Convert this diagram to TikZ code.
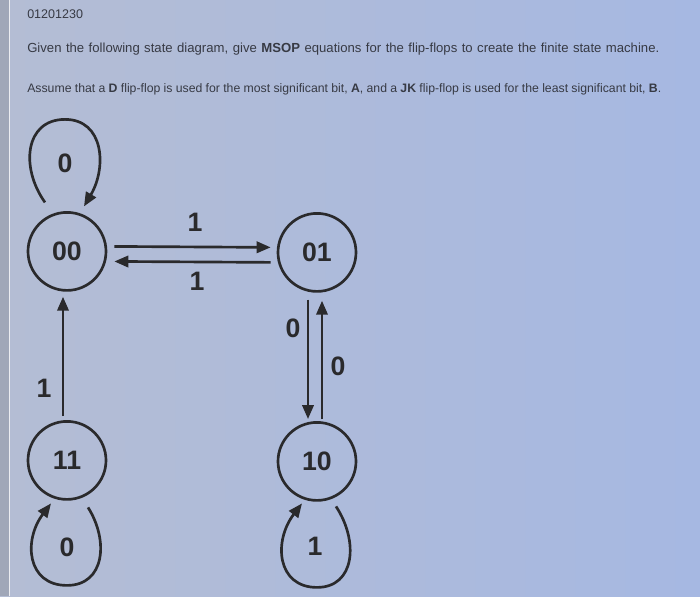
\documentclass[tikz,border=0pt]{standalone}
\usepackage{fontspec}
\setmainfont{Liberation Sans}
\usetikzlibrary{arrows.meta}
\definecolor{ink}{RGB}{42,42,44}
\definecolor{txt}{RGB}{55,58,68}
\definecolor{bgl}{RGB}{180,189,212}
\definecolor{bgr}{RGB}{166,184,226}
\definecolor{strip}{RGB}{160,167,184}
\tikzset{
  state/.style={circle, draw=ink, line width=2pt, minimum size=58.5pt, inner sep=0pt,
    text=ink, font=\bfseries\fontsize{20}{24}\selectfont},
  lbl/.style={inner sep=0pt, text=ink, font=\bfseries\fontsize{20}{24}\selectfont},
  arr/.style={draw=ink, line width=2pt, -{Triangle[length=10.5pt,width=8.5pt]}},
  loop/.style={draw=ink, line width=2pt, -{Triangle[length=10.5pt,width=8.5pt]}},
  prose/.style={anchor=west, inner sep=0pt, text=txt, font=\fontsize{9.4}{11}\selectfont}
}
\begin{document}
\begin{tikzpicture}[x=0.75pt,y=-0.75pt]
\shade[left color=bgl, right color=bgr] (0,0) rectangle (700,596);
\fill[strip] (0,0) rectangle (9,596);
\draw[white!80!strip, line width=0.6pt] (9.5,0) -- (9.5,596);
\useasboundingbox (0,0) rectangle (700,596);

\node[prose] (code) at (27,14) {01201230};
\node[prose] (q1) at (27,49) {\makebox[474pt][s]{\fontsize{9.85}{11}\selectfont Given the following state diagram, give \textbf{MSOP} equations for the flip-flops to create the finite state machine.}};
\node[prose] (q2) at (27,89) {\makebox[475.5pt][s]{\fontsize{9.2}{11}\selectfont Assume that a \textbf{D} flip-flop is used for the most significant bit, \textbf{A}, and a \textbf{JK} flip-flop is used for the least significant bit, \textbf{B}.}};

\node[state] (s00) at (67,251) {00};
\node[state] (s01) at (317,252) {01};
\node[state] (s11) at (67,460) {11};
\node[state] (s10) at (317,461) {10};

% 00 <-> 01
\draw[arr, shorten <=5.25pt, shorten >=4.5pt] ([yshift=3.75pt]s00.east) -- ([yshift=3.75pt]s01.west);
\draw[arr, shorten <=4.5pt, shorten >=5.25pt] ([yshift=-7.5pt]s01.west) -- ([yshift=-7.5pt]s00.east);
\node[lbl] (e1) at (195,222) {1};
\node[lbl] (e2) at (197,281) {1};

% 01 <-> 10
\draw[arr, shorten <=5.25pt, shorten >=1.5pt] ([xshift=-6.75pt]s01.south) -- ([xshift=-6.75pt]s10.north);
\draw[arr, shorten <=1.5pt, shorten >=6pt] ([xshift=3.75pt]s10.north) -- ([xshift=3.75pt]s01.south);
\node[lbl] (e3) at (293,328) {0};
\node[lbl] (e4) at (338,366) {0};

% 11 -> 00
\draw[arr, shorten <=3pt, shorten >=3.75pt] ([xshift=-3pt]s11.north) -- ([xshift=-3pt]s00.south);
\node[lbl] (e5) at (44,388) {1};

% self loops
\draw[loop] ([shift={(-22,-49)}]s00.center) .. controls ([shift={(-47,-84)}]s00.center) and ([shift={(-42,-132)}]s00.center) .. ([shift={(-2,-132)}]s00.center)
  .. controls ([shift={(37,-132)}]s00.center) and ([shift={(40,-84)}]s00.center) .. ([shift={(17,-45)}]s00.center);
\node[lbl] (e6) at (65,163) {0};

\draw[loop] ([shift={(21,47)}]s11.center) .. controls ([shift={(42,80)}]s11.center) and ([shift={(38,125)}]s11.center) .. ([shift={(0,125)}]s11.center)
  .. controls ([shift={(-40,125)}]s11.center) and ([shift={(-44,80)}]s11.center) .. ([shift={(-16,43)}]s11.center);
\node[lbl] (e7) at (67,547) {0};

\draw[loop] ([shift={(19,45)}]s10.center) .. controls ([shift={(42,80)}]s10.center) and ([shift={(38,126)}]s10.center) .. ([shift={(0,126)}]s10.center)
  .. controls ([shift={(-40,126)}]s10.center) and ([shift={(-44,80)}]s10.center) .. ([shift={(-15,42)}]s10.center);
\node[lbl] (e8) at (315,546) {1};
\end{tikzpicture}
\end{document}
